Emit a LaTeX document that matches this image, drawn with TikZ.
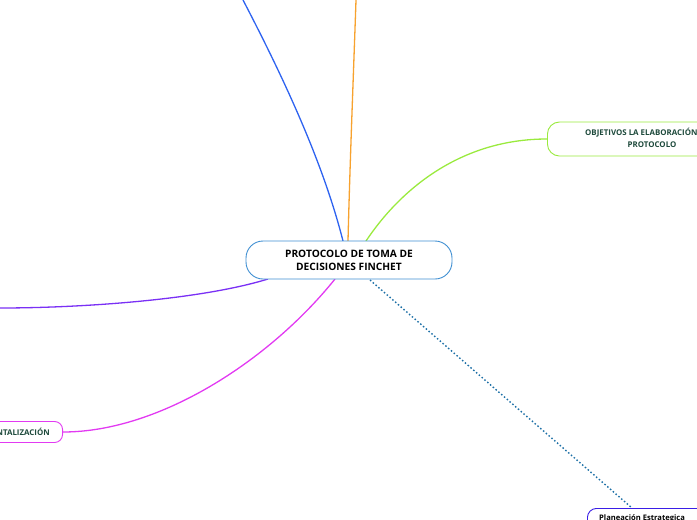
\documentclass[tikz,border=0pt]{standalone}
\usepackage{fontspec}
\setmainfont{Open Sans}
\definecolor{cblue}{HTML}{2E63F0}
\definecolor{corange}{HTML}{F7A22E}
\definecolor{cgreen}{HTML}{9AEA3E}
\definecolor{cpurple}{HTML}{7A30F5}
\definecolor{cmag}{HTML}{E23AF2}
\definecolor{cteal}{HTML}{1C6FA6}
\definecolor{cborder}{HTML}{3F8FD2}
\definecolor{cdkgreen}{HTML}{1E4A3C}
\definecolor{cnavy}{HTML}{3A1EE6}
\begin{document}
\begin{tikzpicture}[x=1pt,y=-1pt,
  branch/.style={line width=1.3pt},
  topic/.style={draw, rounded corners=9pt, fill=white, line width=0.9pt},
  lbl/.style={font=\bfseries, inner sep=0pt},
  small/.style={lbl, text=cdkgreen, font=\bfseries\fontsize{7.9}{9}\selectfont}]
\useasboundingbox (0,0) rectangle (697,520);
% coordinates
\coordinate (bt) at (243,0);
\coordinate (ot) at (356,0);
\coordinate (pl) at (0,308);
% objectives box
\node[topic, draw=cgreen, minimum width=170pt, minimum height=34pt, rounded corners=12pt, anchor=west] (obj) at (547,139) {};
\node[small, anchor=west] (objt1) at (585,133) {OBJETIVOS LA ELABORACIÓN};
\node[small] (objt2) at (652,145) {PROTOCOLO};
% left node
\node[topic, draw=cmag, minimum width=100pt, minimum height=21pt, rounded corners=8pt, anchor=east] (doc) at (63,432) {};
\node[small, anchor=east] (doct) at (50,432) {NTALIZACIÓN};
% bottom right
\node[topic, draw=cnavy, minimum width=140pt, minimum height=30pt, rounded corners=9pt, anchor=north west] (pe) at (587,508) {};
\node[lbl, font=\bfseries\fontsize{7.6}{9}\selectfont, anchor=west] (pet) at (599,518.5) {Planeación Estrategica};
% connectors
\draw[branch, cblue] (343,241) .. controls (325,170) and (290,90) .. (bt);
\draw[branch, corange] (348,241) .. controls (350,160) and (354,60) .. (ot);
\draw[branch, cgreen] (366,241) .. controls (400,190) and (460,139) .. (obj.west);
\draw[branch, cpurple] (268,279) .. controls (200,300) and (80,308) .. (pl);
\draw[branch, cmag] (335,279) .. controls (270,360) and (160,432) .. (doc.east);
\draw[cteal, line width=1.4pt, dash pattern=on 1.5pt off 2.2pt] (370,280) -- (632,508);
% central node on top
\node[topic, draw=cborder, minimum width=206pt, minimum height=38pt, rounded corners=17pt,
  align=center, font=\bfseries\fontsize{10.2}{13}\selectfont] (c) at (349,260)
  {PROTOCOLO DE TOMA DE\\DECISIONES FINCHET};
\end{tikzpicture}
\end{document}
